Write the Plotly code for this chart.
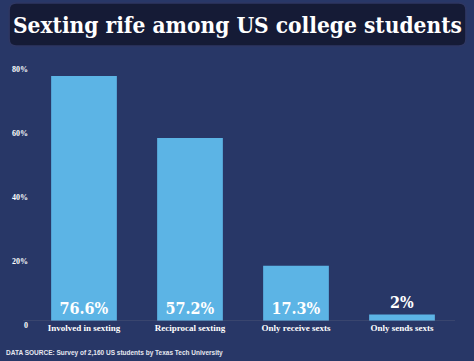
import plotly.graph_objects as go

categories = ["Involved in sexting", "Reciprocal sexting", "Only receive sexts", "Only sends sexts"]
values = [76.6, 57.2, 17.3, 2]
value_labels = ["76.6%", "57.2%", "17.3%", "2%"]
tick_vals = [0, 20, 40, 60, 80]
tick_text = ["0", "20%", "40%", "60%", "80%"]
title_text = "Sexting rife among US college students"
source_text = "DATA SOURCE: Survey of 2,160 US students by Texas Tech University"

BG = "#283767"
BAR = "#5cb4e5"
W, H = 474, 361
L, R, T, B = 28, 19, 65, 40
pw, ph = W - L - R, H - T - B

def px(x):
    return (x - L) / pw

def py(y):
    return (H - B - y) / ph

fig = go.Figure()
fig.add_trace(go.Bar(
    x=categories, y=values,
    marker=dict(color=BAR, line=dict(width=0)),
    width=0.62,
    text=value_labels,
    textposition=["inside", "inside", "inside", "outside"],
    insidetextanchor="start",
    textfont=dict(family="DejaVu Serif Condensed", size=16, color="white", weight="bold"),
    cliponaxis=False,
    hoverinfo="skip",
))

# rounded title box
x0, x1, y0, y1 = px(6), px(466), py(46), py(3)
rx, ry = 7 / pw, 7 / ph
path = (f"M {x0+rx},{y0} L {x1-rx},{y0} Q {x1},{y0} {x1},{y0+ry} "
        f"L {x1},{y1-ry} Q {x1},{y1} {x1-rx},{y1} L {x0+rx},{y1} "
        f"Q {x0},{y1} {x0},{y1-ry} L {x0},{y0+ry} Q {x0},{y0} {x0+rx},{y0} Z")
fig.add_shape(type="path", path=path, xref="paper", yref="paper",
              fillcolor="#151b36", line=dict(color="#2e3763", width=1.5), layer="below")

# baseline
fig.add_shape(type="line", xref="paper", yref="y", x0=px(20), x1=px(455), y0=0, y1=0,
              line=dict(color="#4a5577", width=1))

fig.add_annotation(x=px(236), y=py(24.5), xref="paper", yref="paper", text=title_text,
                   showarrow=False, xanchor="center", yanchor="middle",
                   font=dict(family="DejaVu Serif Condensed", size=22.5, color="white", weight="bold"))
fig.add_annotation(x=px(1), y=py(353), xref="paper", yref="paper", text=source_text,
                   showarrow=False, xanchor="left", yanchor="middle",
                   font=dict(family="Liberation Sans", size=6.5, color="#e6e8f0", weight="bold"))

fig.update_layout(
    width=W, height=H,
    margin=dict(l=L, r=R, t=T, b=B),
    paper_bgcolor=BG, plot_bgcolor=BG,
    showlegend=False,
    bargap=0.38,
    xaxis=dict(showgrid=False, showline=False, zeroline=False, ticks="",
               tickfont=dict(family="Liberation Serif", size=9, color="white", weight="bold"),
               ticklabelstandoff=0),
    yaxis=dict(range=[0, 80], tickvals=tick_vals, ticktext=tick_text, showgrid=False,
               zeroline=False, showline=False, ticks="", ticklabelshift=4, ticklabelstandoff=2,
               tickfont=dict(family="Liberation Serif", size=8, color="white", weight="bold")),
)

fig.write_html("out.html", config={"displayModeBar": False},
               post_script="document.body.style.margin='0';document.body.style.background='" + BG + "';")
